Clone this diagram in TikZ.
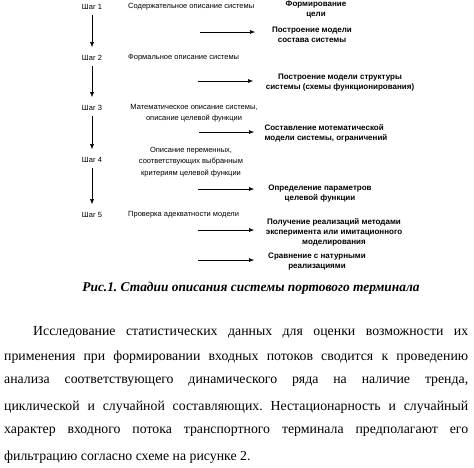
\documentclass[tikz,border=0pt]{standalone}
\usepackage{fontspec}
\setmainfont{Liberation Serif}
\newfontfamily\dsans{Liberation Sans}
\usetikzlibrary{arrows.meta}
\frenchspacing
\begin{document}
\begin{tikzpicture}[x=1pt,y=-1pt,
  steplabel/.style={font=\dsans\fontsize{7.5}{9}\selectfont, inner sep=0pt},
  midtext/.style={font=\dsans\fontsize{7.5}{11.5}\selectfont, inner sep=0pt, align=center},
  restext/.style={font=\dsans\bfseries\fontsize{8}{10}\selectfont, inner sep=0pt, align=center},
  arr/.style={-{Latex[length=5pt,width=4pt]}, line width=0.5pt, black},
  para/.style={font=\fontsize{13.8}{15}\selectfont, inner sep=0pt, anchor=west}
]
\useasboundingbox (0,0) rectangle (474,468);
\fill[white] (0,0) rectangle (474,468);

% steps
\node[steplabel] (s1) at (92,7) {Шаг 1};
\node[steplabel] (s2) at (92,58) {Шаг 2};
\node[steplabel] (s3) at (92,108) {Шаг 3};
\node[steplabel] (s4) at (92,160) {Шаг 4};
\node[steplabel] (s5) at (92,215) {Шаг 5};
\draw[arr, shorten <=5pt, shorten >=8pt] (s1) -- (s2);
\draw[arr, shorten <=5pt, shorten >=8pt] (s2) -- (s3);
\draw[arr, shorten <=5pt, shorten >=8pt] (s3) -- (s4);
\draw[arr, shorten <=5pt, shorten >=8pt] (s4) -- (s5);

% middle descriptions
\node[midtext, anchor=west] (m1) at (128,7) {Содержательное описание системы};
\node[midtext, anchor=west] (m2) at (128,58) {Формальное описание системы};
\node[midtext] (m3) at (194,113) {Математическое описание системы,\\описание целевой функции};
\node[midtext] (m4) at (191,162) {Описание переменных,\\соответствующих выбранным\\критериям целевой функции};
\node[midtext, anchor=west] (m5) at (128,215) {Проверка адекватности модели};

% results
\node[restext] (r1) at (316,10) {Формирование\\цели};
\node[restext] (r2) at (312,35) {Построение модели\\состава системы};
\node[restext] (r3) at (340,83) {Построение модели структуры\\системы (схемы функционирования)};
\node[restext, align=left] (r4) at (326,133) {Составление мотематической\\модели системы, ограничений};
\node[restext] (r5) at (320,194) {Определение параметров\\целевой функции};
\node[restext] (r6) at (334,232) {Получение реализаций методами\\эксперимента или имитационного\\моделирования};
\node[restext] (r7) at (317,262) {Сравнение с натурными\\реализациями};

% horizontal arrows
\coordinate (a1) at (200,32);  \coordinate (b1) at (255,32);
\coordinate (a2) at (198,81);  \coordinate (b2) at (253,81);
\coordinate (a3) at (199,132); \coordinate (b3) at (254,132);
\coordinate (a4) at (198,189); \coordinate (b4) at (254,189);
\coordinate (a5) at (198,230); \coordinate (b5) at (254,230);
\coordinate (a6) at (198,260); \coordinate (b6) at (254,260);
\foreach \i in {1,...,6} \draw[arr] (a\i) -- (b\i);

% caption
\node[inner sep=0pt, font=\bfseries\itshape\fontsize{13.4}{15}\selectfont] (cap) at (251,288) {Рис.1. Стадии описания системы портового терминала};

% paragraph
\node[para] (p1) at (33,332) {\makebox[435pt][s]{Исследование статистических данных для оценки возможности их}};
\node[para] (p2) at (4,357) {\makebox[464pt][s]{применения при формировании входных потоков сводится к проведению}};
\node[para] (p3) at (4,382) {\makebox[464pt][s]{анализа соответствующего динамического ряда на наличие тренда,}};
\node[para] (p4) at (4,407) {\makebox[464pt][s]{циклической и случайной составляющих. Нестационарность и случайный}};
\node[para] (p5) at (4,432) {\makebox[464pt][s]{характер входного потока транспортного терминала предполагают его}};
\node[para] (p6) at (4,457) {фильтрацию согласно схеме на рисунке 2.};
\end{tikzpicture}
\end{document}
